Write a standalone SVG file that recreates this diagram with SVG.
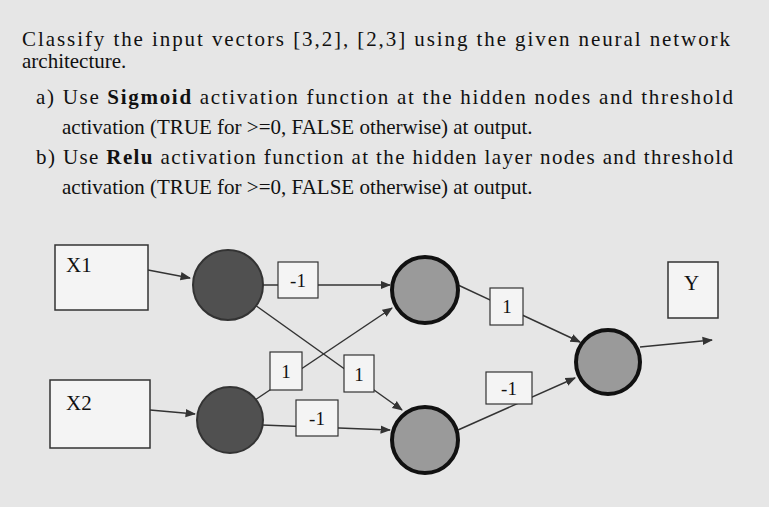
<svg xmlns="http://www.w3.org/2000/svg" width="769" height="507" viewBox="0 0 769 507">
<defs>
<marker id="ah" viewBox="0 0 10 10" refX="9" refY="5" markerWidth="7" markerHeight="7" orient="auto"><path d="M0,1 L10,5 L0,9 z" fill="#333"/></marker>
</defs>
<style>
.t{font-family:"Liberation Serif",serif;font-size:21px;fill:#111}
.b{fill:#f4f4f4;stroke:#333;stroke-width:1.5}
.w{fill:#f4f4f4;stroke:#333;stroke-width:1.2}
.in{fill:#505050;stroke:#333;stroke-width:2}
.hid{fill:#9a9a9a;stroke:#111;stroke-width:4}
.c{stroke:#333;stroke-width:1.5;fill:none;marker-end:url(#ah)}
.l{font-family:"Liberation Serif",serif;font-size:19px;fill:#111;text-anchor:middle}
</style>
<rect width="769" height="507" fill="#e6e6e6"/>
<text class="t" x="22" y="46" textLength="708" lengthAdjust="spacing">Classify the input vectors [3,2], [2,3] using the given neural network</text>
<text class="t" x="22" y="68">architecture.</text>
<text class="t" x="36" y="104" textLength="697" lengthAdjust="spacing">a) Use <tspan font-weight="bold">Sigmoid</tspan> activation function at the hidden nodes and threshold</text>
<text class="t" x="62" y="134">activation (TRUE for &gt;=0, FALSE otherwise) at output.</text>
<text class="t" x="36" y="164" textLength="697" lengthAdjust="spacing">b) Use <tspan font-weight="bold">Relu</tspan> activation function at the hidden layer nodes and threshold</text>
<text class="t" x="62" y="194">activation (TRUE for &gt;=0, FALSE otherwise) at output.</text>
<g id="connectors">
<line class="c" x1="148" y1="270" x2="190" y2="278"/>
<line class="c" x1="150" y1="410" x2="195" y2="414"/>
<line class="c" x1="262" y1="285" x2="390" y2="285"/>
<line class="c" x1="255" y1="305" x2="402" y2="410"/>
<line class="c" x1="255" y1="400" x2="392" y2="308"/>
<line class="c" x1="262" y1="425" x2="390" y2="430"/>
<line class="c" x1="458" y1="285" x2="580" y2="342"/>
<line class="c" x1="458" y1="430" x2="575" y2="378"/>
<line class="c" x1="640" y1="347" x2="712" y2="340"/>
</g>
<g id="x1"><rect class="b" x="55" y="245" width="93" height="65"/><text class="t" x="66" y="272">X1</text></g>
<g id="x2"><rect class="b" x="50" y="380" width="100" height="68"/><text class="t" x="66" y="410">X2</text></g>
<g id="y"><rect class="b" x="668" y="262" width="50" height="56"/><text class="t" x="684" y="290">Y</text></g>
<g id="in1"><circle class="in" cx="228" cy="285" r="35"/></g>
<g id="in2"><circle class="in" cx="230" cy="420" r="33"/></g>
<g id="h1"><circle class="hid" cx="425" cy="290" r="33"/></g>
<g id="h2"><circle class="hid" cx="425" cy="440" r="33"/></g>
<g id="out"><circle class="hid" cx="608" cy="362" r="32" stroke-width="2.5"/></g>
<g id="w1"><rect class="w" x="278" y="262" width="40" height="36"/><text class="l" x="298" y="287">-1</text></g>
<g id="w2"><rect class="w" x="490" y="288" width="33" height="37"/><text class="l" x="507" y="313">1</text></g>
<g id="w3"><rect class="w" x="270" y="352" width="32" height="38"/><text class="l" x="286" y="378">1</text></g>
<g id="w4"><rect class="w" x="344" y="355" width="30" height="37"/><text class="l" x="359" y="381">1</text></g>
<g id="w5"><rect class="w" x="296" y="400" width="42" height="36"/><text class="l" x="317" y="425">-1</text></g>
<g id="w6"><rect class="w" x="486" y="372" width="46" height="32"/><text class="l" x="509" y="395">-1</text></g>
</svg>
